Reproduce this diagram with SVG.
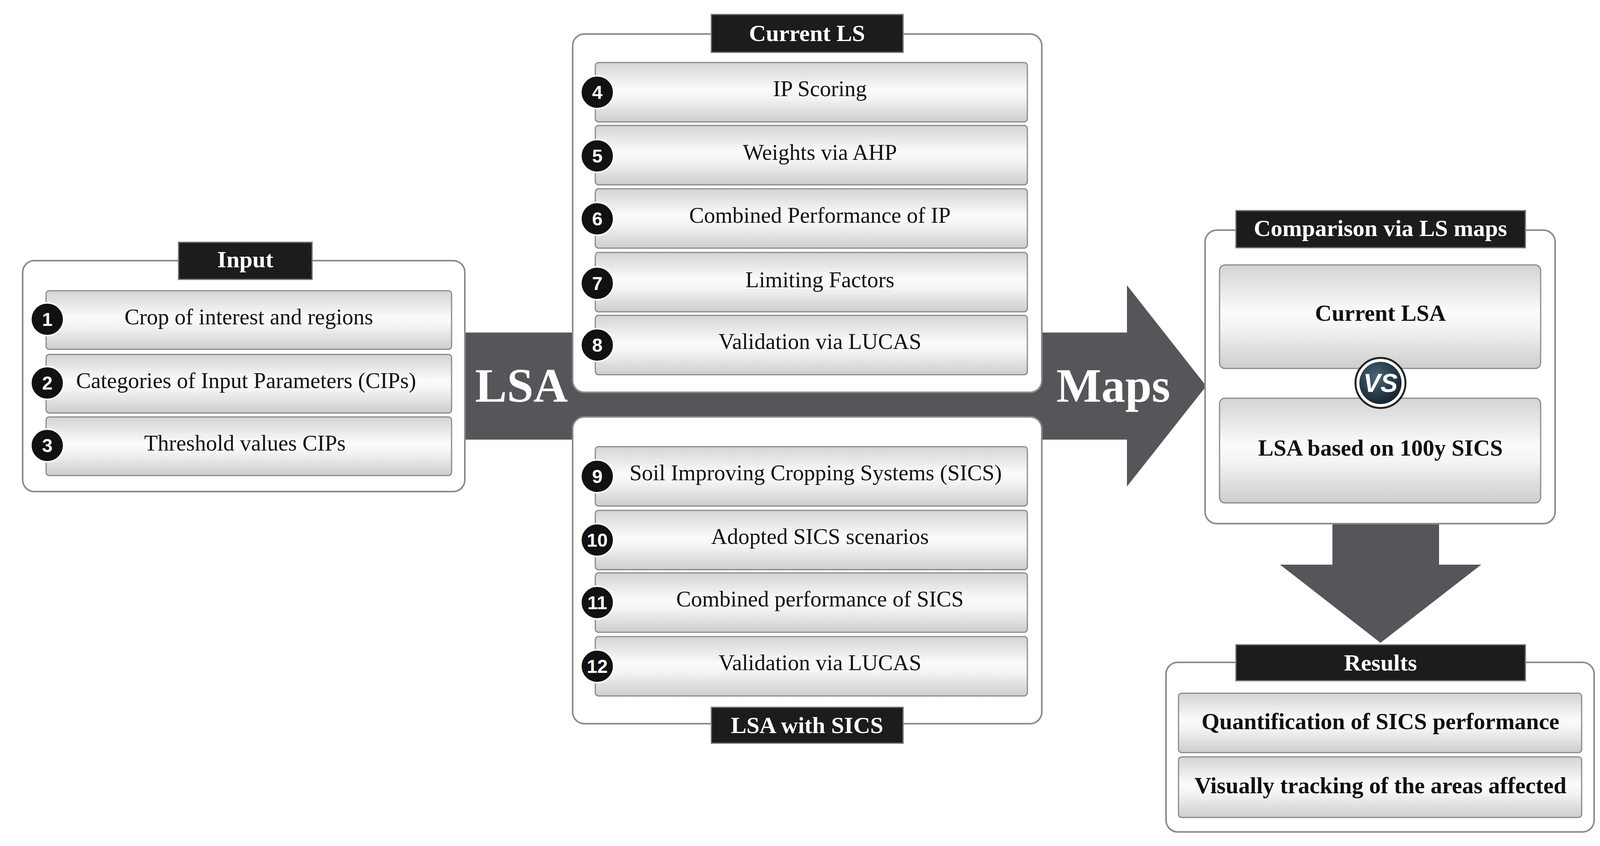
<svg xmlns="http://www.w3.org/2000/svg" width="4120" height="2165" viewBox="0 0 4120 2165">
<defs>
<linearGradient id="g" x1="0" y1="0" x2="0" y2="1">
<stop offset="0" stop-color="#d4d4d4"/><stop offset="0.45" stop-color="#fbfbfb"/><stop offset="0.6" stop-color="#f4f4f4"/><stop offset="1" stop-color="#cdcdcd"/>
</linearGradient>
<radialGradient id="vs" cx="0.4" cy="0.35" r="0.7"><stop offset="0" stop-color="#4d6577"/><stop offset="1" stop-color="#13202a"/></radialGradient>
</defs>
<style>
.cont{fill:#fff;stroke:#8a8a8a;stroke-width:4}
.item{fill:url(#g);stroke:#8a8a8a;stroke-width:3}
.title{fill:#1c1c1c;stroke:#777;stroke-width:3}
.tt{font-family:"Liberation Serif",serif;font-weight:bold;font-size:60px;fill:#fff;text-anchor:middle}
.t{font-family:"Liberation Serif",serif;font-size:57px;fill:#111;text-anchor:middle}
.tb{font-family:"Liberation Serif",serif;font-weight:bold;font-size:59px;fill:#111;text-anchor:middle}
.c{fill:#111;stroke:#fff;stroke-width:4}
.n{font-family:"Liberation Sans",sans-serif;font-weight:bold;font-size:48px;fill:#fff;text-anchor:middle}
.big{font-family:"Liberation Serif",serif;font-weight:bold;font-size:122px;fill:#fff;text-anchor:middle}
.arr{fill:#555659}
</style>
<rect width="4120" height="2165" fill="#fff"/>
<g id="connectors">
<path class="arr" d="M1190 851 H2885 V730 L3088 988 L2885 1245 V1125 H1190 Z"/>
<path class="arr" d="M3411 1340 H3684 V1445 H3792 L3534 1645 L3277 1445 H3411 Z"/>
<text class="big" x="1335" y="1028">LSA</text>
<text class="big" x="2850" y="1028">Maps</text>
</g>
<g id="input">
<rect class="cont" x="58" y="667" width="1132" height="591" rx="30"/>
<rect class="title" x="457" y="620" width="342" height="95"/>
<text class="tt" x="628" y="684">Input</text>
<rect class="item" x="118" y="744" width="1038" height="150" rx="8"/>
<rect class="item" x="118" y="907" width="1038" height="150" rx="8"/>
<rect class="item" x="118" y="1067" width="1038" height="150" rx="8"/>
<circle class="c" cx="121" cy="817" r="42"/><text class="n" x="121" y="834">1</text>
<circle class="c" cx="121" cy="980" r="42"/><text class="n" x="121" y="997">2</text>
<circle class="c" cx="121" cy="1140" r="42"/><text class="n" x="121" y="1157">3</text>
<text class="t" x="637" y="830">Crop of interest and regions</text>
<text class="t" x="630" y="993">Categories of Input Parameters (CIPs)</text>
<text class="t" x="627" y="1153">Threshold values CIPs</text>
</g>
<g id="current-ls">
<rect class="cont" x="1466" y="87" width="1201" height="917" rx="30"/>
<rect class="title" x="1821" y="37" width="491" height="97"/>
<text class="tt" x="2066" y="105">Current LS</text>
<rect class="item" x="1524" y="160" width="1106" height="152" rx="8"/>
<rect class="item" x="1524" y="321" width="1106" height="152" rx="8"/>
<rect class="item" x="1524" y="483" width="1106" height="152" rx="8"/>
<rect class="item" x="1524" y="646" width="1106" height="152" rx="8"/>
<rect class="item" x="1524" y="807" width="1106" height="152" rx="8"/>
<circle class="c" cx="1529" cy="236" r="42"/><text class="n" x="1529" y="253">4</text>
<circle class="c" cx="1529" cy="399" r="42"/><text class="n" x="1529" y="416">5</text>
<circle class="c" cx="1529" cy="560" r="42"/><text class="n" x="1529" y="577">6</text>
<circle class="c" cx="1529" cy="725" r="42"/><text class="n" x="1529" y="742">7</text>
<circle class="c" cx="1529" cy="883" r="42"/><text class="n" x="1529" y="900">8</text>
<text class="t" x="2099" y="246">IP Scoring</text>
<text class="t" x="2099" y="409">Weights via AHP</text>
<text class="t" x="2099" y="570">Combined Performance of IP</text>
<text class="t" x="2099" y="735">Limiting Factors</text>
<text class="t" x="2099" y="893">Validation via LUCAS</text>
</g>
<g id="lsa-sics">
<rect class="cont" x="1466" y="1067" width="1201" height="785" rx="30"/>
<rect class="item" x="1524" y="1143" width="1106" height="152" rx="8"/>
<rect class="item" x="1524" y="1306" width="1106" height="152" rx="8"/>
<rect class="item" x="1524" y="1466" width="1106" height="152" rx="8"/>
<rect class="item" x="1524" y="1629" width="1106" height="152" rx="8"/>
<circle class="c" cx="1529" cy="1219" r="42"/><text class="n" x="1529" y="1236">9</text>
<circle class="c" cx="1529" cy="1382" r="42"/><text class="n" x="1529" y="1399">10</text>
<circle class="c" cx="1529" cy="1542" r="42"/><text class="n" x="1529" y="1559">11</text>
<circle class="c" cx="1529" cy="1705" r="42"/><text class="n" x="1529" y="1722">12</text>
<text class="t" x="2088" y="1229">Soil Improving Cropping Systems (SICS)</text>
<text class="t" x="2099" y="1392">Adopted SICS scenarios</text>
<text class="t" x="2099" y="1552">Combined performance of SICS</text>
<text class="t" x="2099" y="1715">Validation via LUCAS</text>
<rect class="title" x="1821" y="1810" width="491" height="92"/>
<text class="tt" x="2066" y="1876">LSA with SICS</text>
</g>
<g id="comparison">
<rect class="cont" x="3085" y="589" width="896" height="751" rx="30"/>
<rect class="title" x="3164" y="539" width="741" height="95"/>
<text class="tt" x="3534" y="604">Comparison via LS maps</text>
<rect class="item" x="3122" y="678" width="822" height="265" rx="14"/>
<rect class="item" x="3122" y="1019" width="822" height="268" rx="14"/>
<text class="tb" x="3534" y="821">Current LSA</text>
<text class="tb" x="3534" y="1166">LSA based on 100y SICS</text>
<circle cx="3534" cy="980" r="64" fill="#fff" stroke="#222" stroke-width="5"/>
<circle cx="3534" cy="980" r="54" fill="url(#vs)"/>
<text x="3534" y="1003" font-family="Liberation Sans,sans-serif" font-weight="bold" font-style="italic" font-size="66" fill="#fff" text-anchor="middle">VS</text>
</g>
<g id="results">
<rect class="cont" x="2985" y="1695" width="1096" height="434" rx="30"/>
<rect class="title" x="3164" y="1650" width="741" height="92"/>
<text class="tt" x="3534" y="1716">Results</text>
<rect class="item" x="3017" y="1774" width="1032" height="152" rx="8"/>
<rect class="item" x="3017" y="1937" width="1032" height="155" rx="8"/>
<text class="tb" x="3534" y="1866">Quantification of SICS performance</text>
<text class="tb" x="3534" y="2030">Visually tracking of the areas affected</text>
</g>
</svg>
